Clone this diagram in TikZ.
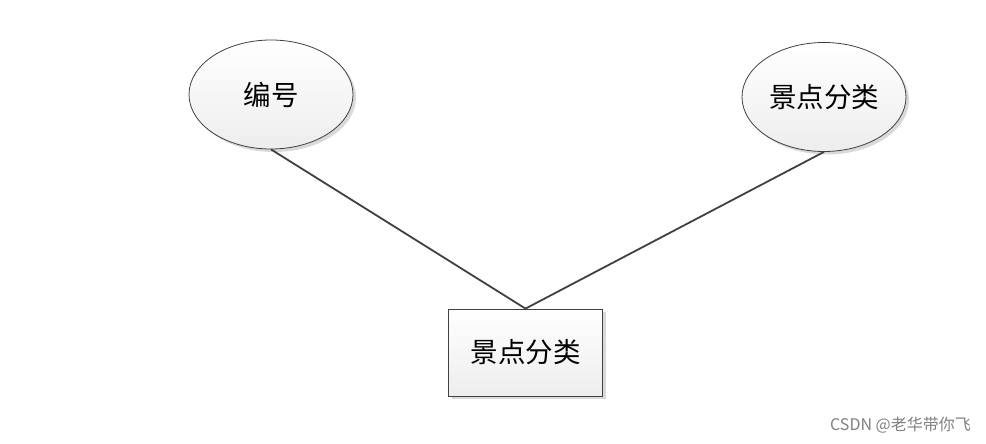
\documentclass[tikz,border=0pt]{standalone}
\usepackage{fontspec}
\newfontfamily\cjk{Noto Sans CJK SC}
\usetikzlibrary{shapes.geometric,shadows}
\definecolor{edgec}{HTML}{404040}
\tikzset{
  attr/.style={ellipse, draw=edgec, line width=0.8pt, minimum width=164pt, minimum height=109pt, inner sep=0pt,
    top color=white, bottom color=black!7, drop shadow={shadow xshift=3pt, shadow yshift=-3pt, fill=black!15, opacity=1},
    font=\cjk\fontsize{27.5}{30}\selectfont},
  entity/.style={rectangle, draw=edgec, line width=0.8pt, minimum width=154pt, minimum height=87pt, inner sep=0pt,
    top color=white, bottom color=black!7, drop shadow={shadow xshift=3pt, shadow yshift=-3pt, fill=black!15, opacity=1},
    font=\cjk\fontsize{27.5}{30}\selectfont},
  link/.style={draw=edgec, line width=1.8pt}
}
\begin{document}
\begin{tikzpicture}[x=1pt,y=-1pt]
\useasboundingbox (0,0) rectangle (986,444);
\node[attr] (id) at (271,94.5) {编号};
\node[attr] (cat) at (824,97) {景点分类};
\node[entity] (ent) at (525.5,352.5) {景点分类};
\draw[link] (id.south) -- (ent.north);
\draw[link] (cat.south) -- (ent.north);
\node[anchor=east, text=black!50, font=\cjk\fontsize{16}{19}\selectfont, inner sep=0pt] (wm) at (971,425) {CSDN @老华带你飞};
\end{tikzpicture}
\end{document}
